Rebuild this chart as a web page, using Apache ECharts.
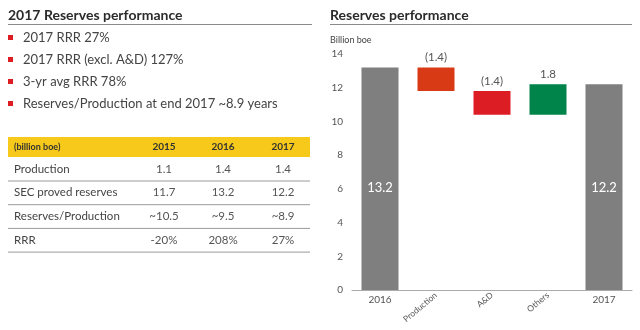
<!DOCTYPE html>
<html>
<head>
<meta charset="utf-8">
<script src="https://cdn.jsdelivr.net/npm/echarts@6/dist/echarts.min.js"></script>
<style>
html,body{margin:0;padding:0;background:#fff;}
#main{width:640px;height:330px;}
</style>
</head>
<body>
<div id="main"></div>
<script>
// ---- Data ----
const leftTitle = '2017 Reserves performance';
const bullets = [
  '2017 RRR 27%',
  '2017 RRR (excl. A&D) 127%',
  '3-yr avg RRR 78%',
  'Reserves/Production at end 2017 ~8.9 years'
];
const tableHeader = ['(billion boe)', '2015', '2016', '2017'];
const rowLabels = ['Production', 'SEC proved reserves', 'Reserves/Production', 'RRR'];
const row2015 = ['1.1', '11.7', '~10.5', '-20%'];
const row2016 = ['1.4', '13.2', '~9.5', '208%'];
const row2017 = ['1.4', '12.2', '~8.9', '27%'];

const chartTitle = 'Reserves performance';
const unitLabel = 'Billion boe';
const categories = ['2016', 'Production', 'A&D', 'Others', '2017'];
const startValue = 13.2;
const changes = [-1.4, -1.4, 1.8];
const endValue = 12.2;
const yTickMax = 14;
const yTickStep = 2;

// ---- Styles ----
const FONT = 'Lato, "DejaVu Sans", sans-serif';
const barColors = ['#7f7f7f', '#d83a16', '#dc1d24', '#00844a', '#7f7f7f'];
const TXT = '#4a4a4a';

// ---- Waterfall build ----
const bases = [0], heights = [startValue];
let running = startValue;
changes.forEach(c => {
  if (c < 0) { running += c; bases.push(running); heights.push(-c); }
  else { bases.push(running); heights.push(c); running += c; }
});
bases.push(0); heights.push(endValue);
const signed = [startValue].concat(changes).concat([endValue]);

// ---- Graphic (left panel + titles) ----
const g = [];
function text(t, x, y, size, opts) {
  opts = opts || {};
  g.push({
    type: 'text',
    style: {
      text: t, x: x, y: y,
      fontFamily: FONT, fontSize: size,
      fontWeight: opts.bold ? 'bold' : 'normal',
      fill: opts.color || TXT,
      textAlign: opts.align || 'left',
      textVerticalAlign: 'middle'
    }
  });
}
function hline(x1, x2, y, color, w) {
  g.push({ type: 'line', shape: { x1: x1, y1: y, x2: x2, y2: y },
    style: { stroke: color, lineWidth: w || 1 } });
}
// left title
text(leftTitle, 8, 15, 14, { bold: true, color: '#2b2b2b' });
hline(8, 312, 24.5, '#8a8a8a', 1);
// bullets
bullets.forEach((b, i) => {
  const y = 38 + i * 22;
  g.push({ type: 'rect', shape: { x: 8, y: y - 3, width: 5, height: 5 }, style: { fill: '#dd1d21' } });
  text(b, 23, y, 13, { color: '#444' });
});
// table
g.push({ type: 'rect', shape: { x: 8, y: 137, width: 302, height: 20 }, style: { fill: '#f7c91a' } });
const colX = [14, 164, 223, 283];
text(tableHeader[0], colX[0], 147, 9, { bold: true, color: '#333' });
for (let j = 1; j < 4; j++) text(tableHeader[j], colX[j], 147, 10, { bold: true, color: '#333', align: 'center' });
const cols = [row2015, row2016, row2017];
rowLabels.forEach((lab, i) => {
  const y = 169 + i * 23.7;
  text(lab, colX[0], y, 11.5, { color: '#444' });
  cols.forEach((c, j) => text(c[i], colX[j + 1], y, 11.5, { color: '#555', align: 'center' }));
  hline(8, 310, y + 12, '#9a9a9a', 1);
});
// right title
text(chartTitle, 330, 15, 14, { bold: true, color: '#2b2b2b' });
hline(330, 632, 24.5, '#8a8a8a', 1);
text(unitLabel, 330, 40, 9, { color: '#444' });

// ---- Chart ----
const chart = echarts.init(document.getElementById('main'), null, { renderer: 'canvas' });
const labelStyle = { fontFamily: FONT, color: '#555' };
chart.setOption({
  animation: false,
  grid: { left: 352, right: 8, top: 54, bottom: 40, containLabel: false },
  xAxis: [
    {
      type: 'category', data: categories, position: 'bottom',
      axisLine: { lineStyle: { color: '#aaa' } }, axisTick: { show: false },
      axisLabel: Object.assign({}, labelStyle, { fontSize: 10, margin: 5,
        formatter: (v, i) => (i === 0 || i === categories.length - 1) ? v : '' })
    },
    {
      type: 'category', data: categories, position: 'bottom',
      axisLine: { show: false }, axisTick: { show: false },
      axisLabel: Object.assign({}, labelStyle, { fontSize: 8.5, margin: 4, rotate: 40,
        formatter: (v, i) => (i === 0 || i === categories.length - 1) ? '' : v })
    }
  ],
  yAxis: {
    type: 'value', min: 0, max: yTickMax, interval: yTickStep,
    axisLine: { show: false }, axisTick: { show: false }, splitLine: { show: false },
    axisLabel: Object.assign({}, labelStyle, { fontSize: 10, margin: 9, color: '#555' })
  },
  graphic: g,
  series: [
    {
      type: 'bar', stack: 'w', data: bases, barWidth: 37,
      itemStyle: { color: 'transparent' }, silent: true
    },
    {
      type: 'bar', stack: 'w', barWidth: 37,
      data: heights.map((h, i) => {
        const isTotal = i === 0 || i === heights.length - 1;
        return {
          value: h,
          itemStyle: { color: barColors[i] },
          label: isTotal ? {
            show: true, position: 'insideBottom', distance: 96,
            color: '#fff', fontSize: 13, fontFamily: FONT,
            formatter: () => signed[i].toFixed(1)
          } : {
            show: true, position: 'top', distance: 4,
            color: '#555', fontSize: 11.5, fontFamily: FONT,
            formatter: () => signed[i] < 0 ? '(' + Math.abs(signed[i]).toFixed(1) + ')' : signed[i].toFixed(1)
          }
        };
      })
    }
  ]
});
</script>
</body>
</html>
